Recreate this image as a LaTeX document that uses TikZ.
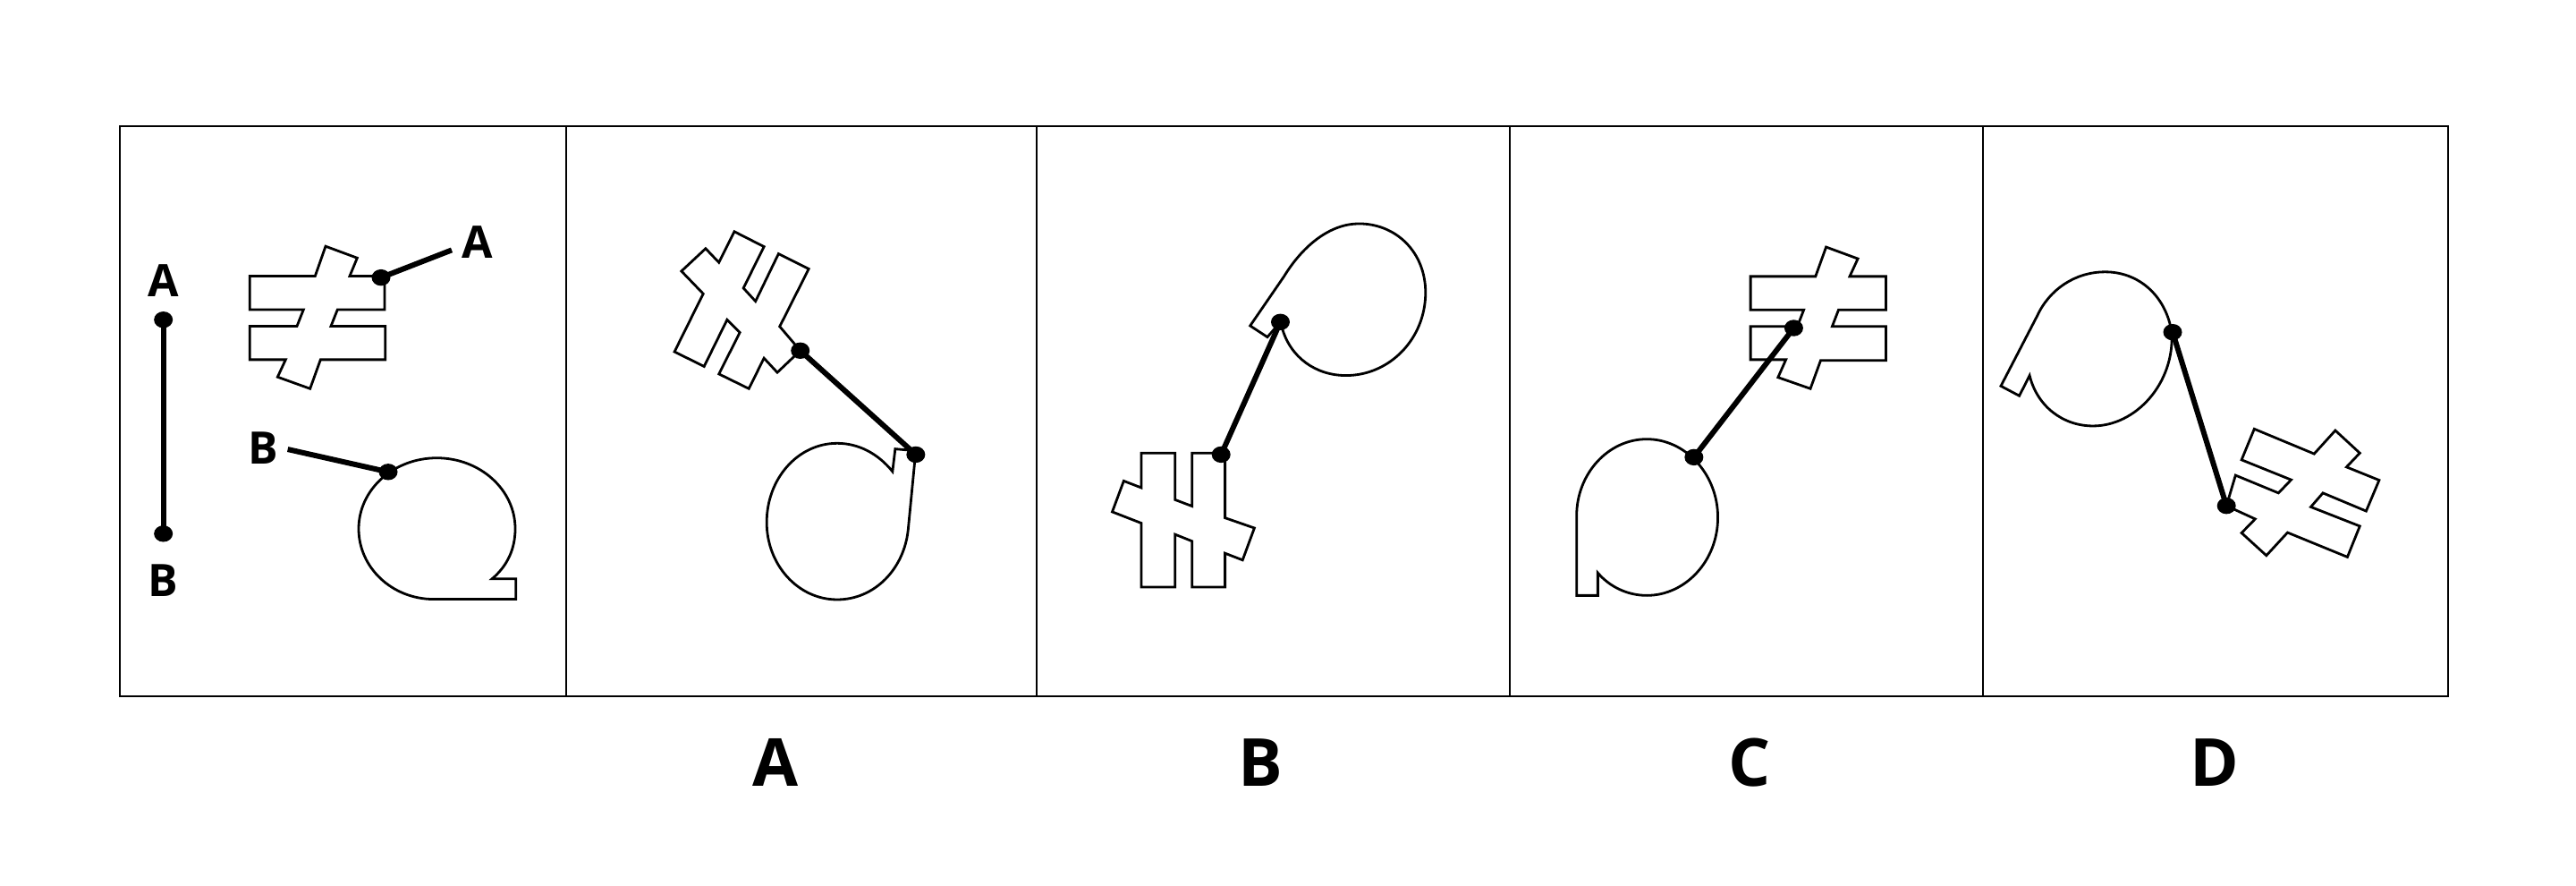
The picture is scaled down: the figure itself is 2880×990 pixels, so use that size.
\documentclass[tikz,border=0pt]{standalone}
\usepackage{fontspec}
\setmainfont{Open Sans}
\usetikzlibrary{shapes.geometric}
\tikzset{
  frameline/.style={draw=black,line width=1pt},
  outline/.style={draw=black,line width=1.4pt,line join=miter,fill=none},
  link/.style={draw=black,line width=3pt},
  pin/.style={ellipse,fill=black,inner sep=0pt,minimum width=10.5pt,minimum height=9.2pt},
  smalllab/.style={font=\fontsize{25}{25}\selectfont\bfseries,inner sep=0pt},
  biglab/.style={font=\fontsize{37}{37}\selectfont\bfseries,inner sep=0pt},
  panelzero/.style={x=0.16667pt,y=-0.21044pt},
  panelrest/.style={x=0.16903pt,y=-0.21044pt}
}
\begin{document}
\begin{tikzpicture}[x=0.5pt,y=-0.5pt]
\useasboundingbox (0,0) rectangle (2880,990);
\fill[white] (0,0) rectangle (2880,990);
% frames
\draw[frameline] (134,141.5) rectangle (2737,778);
\foreach \vx in {633,1159,1688,2217}{\draw[frameline] (\vx,141.5) -- (\vx,778);}
% reference panel
\begin{scope}[shift={(60pt,-65pt)},panelzero]
\draw[outline] (478,424) -- (697,424) -- (732,345) -- (838,376) -- (813,424) -- (930,424) -- (930,513) -- (772,513) -- (750,557) -- (932,557) -- (932,646) -- (715,646) -- (680,723) -- (571,692) -- (598,646) -- (478,646) -- (478,557) -- (636,557) -- (658,513) -- (478,513) -- cycle;
\draw[outline] (1370,1228) -- (1370,1282) -- (1095,1282) .. controls (955,1282) and (843,1198) .. (843,1095) .. controls (843,991) and (960,907) .. (1105,907) .. controls (1250,907) and (1368,991) .. (1368,1095) .. controls (1368,1150) and (1340,1195) .. (1290,1228) -- cycle;
\node[pin] (za) at (188,540) {};
\node[pin] (zb) at (188,1108) {};
\draw[link] (za.center) -- (zb.center);
\node[smalllab] (zla) at (188,435) {A};
\node[smalllab] (zlb) at (188,1232) {B};
\node[pin] (sa) at (918,428) {};
\coordinate (sae) at (1155,355);
\draw[link] (sa.center) -- (sae);
\node[smalllab] (sla) at (1240,335) {A};
\node[pin] (sb) at (942,944) {};
\coordinate (sbe) at (605,884);
\draw[link] (sb.center) -- (sbe);
\node[smalllab] (slb) at (522,880) {B};
\end{scope}
% option A
\begin{scope}[shift={(315pt,-65pt)},panelrest]
\draw[outline] (565,306) -- (663,346) -- (595,456) -- (635,491) -- (711,365) -- (811,405) -- (715,558) -- (783,622) -- (707,680) -- (663,642) -- (613,723) -- (514,684) -- (583,574) -- (541,540) -- (465,664) -- (367,625) -- (462,471) -- (390,411) -- (470,351) -- (514,388) -- cycle;
\draw[outline] (1088,943) -- (1097,883) -- (1165,888) -- (1140,1095) .. controls (1128,1200) and (1030,1283) .. (905,1283) .. controls (775,1283) and (672,1190) .. (672,1078) .. controls (672,962) and (775,868) .. (905,868) .. controls (975,868) and (1040,895) .. (1088,943) -- cycle;
\node[pin] (aa) at (783,622) {};
\node[pin] (ab) at (1165,898) {};
\draw[link] (aa.center) -- (ab.center);
\end{scope}
% option B
\begin{scope}[shift={(580pt,-65pt)},panelrest]
\draw[outline] (343,894) -- (455,894) -- (455,1018) -- (511,1035) -- (511,894) -- (620,894) -- (620,1066) -- (717,1093) -- (678,1178) -- (620,1160) -- (620,1250) -- (511,1250) -- (511,1128) -- (455,1110) -- (455,1250) -- (343,1250) -- (343,1080) -- (247,1050) -- (285,968) -- (343,986) -- cycle;
\draw[outline] (803,546) -- (760,586) -- (703,556) -- (815,425) .. controls (880,340) and (970,285) .. (1063,285) .. controls (1185,285) and (1283,360) .. (1283,468) .. controls (1283,590) and (1165,688) .. (1020,688) .. controls (920,688) and (835,640) .. (808,560);
\node[pin] (ba) at (607,898) {};
\node[pin] (bb) at (803,546) {};
\draw[link] (ba.center) -- (bb.center);
\end{scope}
% option C
\begin{scope}[shift={(845pt,-65pt)},panelrest]
\draw[outline] (790,425) -- (1005,425) -- (1040,347) -- (1145,378) -- (1118,425) -- (1238,425) -- (1238,514) -- (1081,514) -- (1060,558) -- (1238,558) -- (1238,648) -- (1022,648) -- (988,723) -- (881,693) -- (907,646) -- (790,646) -- (790,558) -- (945,558) -- (966,514) -- (790,514) -- cycle;
\draw[outline] (215,1272) -- (285,1272) -- (285,1212) .. controls (325,1250) and (385,1272) .. (447,1272) .. controls (575,1272) and (682,1180) .. (682,1065) .. controls (682,950) and (575,857) .. (447,857) .. controls (318,857) and (215,950) .. (215,1060) -- cycle;
\node[pin] (ca) at (933,562) {};
\node[pin] (cb) at (603,905) {};
\draw[link] (ca.center) -- (cb.center);
\end{scope}
% option D
\begin{scope}[shift={(1107.5pt,-65pt)},panelrest]
\draw[outline] (903,830) -- (1101,896) -- (1171,834) -- (1252,894) -- (1208,931) -- (1316,966) -- (1273,1048) -- (1130,1000) -- (1090,1037) -- (1252,1088) -- (1211,1170) -- (1013,1105) -- (943,1166) -- (861,1106) -- (906,1069) -- (811,1034) -- (841,953) -- (983,1000) -- (1025,965) -- (861,912) -- cycle;
\draw[outline] (65,716) -- (185,530) .. controls (225,460) and (310,413) .. (410,413) .. controls (520,413) and (610,475) .. (630,573) .. controls (640,710) and (510,822) .. (370,822) .. controls (270,822) and (185,770) .. (160,688) -- (126,742) -- cycle;
\node[pin] (da) at (633,573) {};
\node[pin] (db) at (811,1034) {};
\draw[link] (da.center) -- (db.center);
\end{scope}
% option letters
\node[biglab] (la) at (867,852) {A};
\node[biglab] (lb) at (1409,852) {B};
\node[biglab] (lc) at (1956,852) {C};
\node[biglab] (ld) at (2476,852) {D};
\end{tikzpicture}
\end{document}
